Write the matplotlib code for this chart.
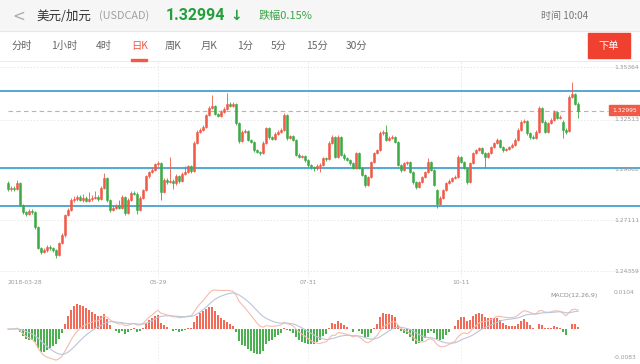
import matplotlib
matplotlib.use("Agg")
import matplotlib.pyplot as plt
from matplotlib.patches import Rectangle
from matplotlib.transforms import blended_transform_factory
import numpy as np
import pandas as pd

plt.rcParams['font.family'] = ['Noto Sans CJK SC', 'DejaVu Sans']

# ---------------- data ----------------
opens = [
    1.2910, 1.2878, 1.2884, 1.2878, 1.2910, 1.2792, 1.2754, 1.2744, 1.2760, 1.2754,
    1.2673, 1.2560, 1.2539, 1.2549, 1.2566, 1.2560, 1.2549, 1.2523, 1.2588, 1.2630,
    1.2738, 1.2765, 1.2819, 1.2824, 1.2835, 1.2819, 1.2830, 1.2814, 1.2824, 1.2830,
    1.2835, 1.2824, 1.2884, 1.2937, 1.2819, 1.2765, 1.2776, 1.2787, 1.2776, 1.2835,
    1.2749, 1.2819, 1.2857, 1.2851, 1.2765, 1.2830, 1.2873, 1.2948, 1.2970, 1.2981,
    1.3013, 1.3018, 1.2862, 1.2927, 1.2916, 1.2921, 1.2910, 1.2948, 1.2921, 1.2959,
    1.2970, 1.3002, 1.2975, 1.3126, 1.3186, 1.3197, 1.3213, 1.3277, 1.3315, 1.3326,
    1.3283, 1.3272, 1.3294, 1.3310, 1.3337, 1.3326, 1.3337, 1.3234, 1.3137, 1.3186,
    1.3191, 1.3143, 1.3132, 1.3089, 1.3078, 1.3072, 1.3126, 1.3207, 1.3159, 1.3148,
    1.3175, 1.3186, 1.3197, 1.3277, 1.3154, 1.3164, 1.3143, 1.3062, 1.3051, 1.3056,
    1.3035, 1.3008, 1.2997, 1.2992, 1.3002, 1.3008, 1.3045, 1.3040, 1.3126, 1.3159,
    1.3051, 1.3159, 1.3062, 1.3045, 1.3035, 1.3018, 1.2992, 1.3072, 1.2992, 1.2954,
    1.2900, 1.2943, 1.3024, 1.3072, 1.3089, 1.3180, 1.3186, 1.3143, 1.3154, 1.3159,
    1.3132, 1.3008, 1.2981, 1.3018, 1.3024, 1.2970, 1.2916, 1.2889, 1.2916, 1.2943,
    1.2970, 1.3024, 1.2981, 1.2873, 1.2798, 1.2830, 1.2873, 1.2910, 1.2921, 1.2937,
    1.2943, 1.3051, 1.3024, 1.2992, 1.2916, 1.3018, 1.3072, 1.3089, 1.3099, 1.3072,
    1.3051, 1.3072, 1.3105, 1.3126, 1.3143, 1.3105, 1.3089, 1.3094, 1.3105, 1.3116,
    1.3143, 1.3197, 1.3240, 1.3245, 1.3180, 1.3159, 1.3154, 1.3186, 1.3315, 1.3240,
    1.3186, 1.3234, 1.3251, 1.3294, 1.3261, 1.3240, 1.3197, 1.3191, 1.3375, 1.3391,
    1.3337]

closes = [
    1.2878, 1.2884, 1.2878, 1.2910, 1.2792, 1.2754, 1.2744, 1.2760, 1.2754, 1.2673,
    1.2560, 1.2539, 1.2549, 1.2566, 1.2560, 1.2549, 1.2523, 1.2588, 1.2630, 1.2738,
    1.2765, 1.2819, 1.2824, 1.2835, 1.2819, 1.2830, 1.2814, 1.2824, 1.2830, 1.2835,
    1.2824, 1.2884, 1.2937, 1.2819, 1.2765, 1.2776, 1.2787, 1.2776, 1.2835, 1.2749,
    1.2819, 1.2857, 1.2851, 1.2765, 1.2830, 1.2873, 1.2948, 1.2970, 1.2981, 1.3013,
    1.3018, 1.2862, 1.2927, 1.2916, 1.2921, 1.2910, 1.2948, 1.2921, 1.2959, 1.2970,
    1.3002, 1.2975, 1.3126, 1.3186, 1.3197, 1.3213, 1.3277, 1.3315, 1.3326, 1.3283,
    1.3272, 1.3294, 1.3310, 1.3337, 1.3326, 1.3337, 1.3234, 1.3137, 1.3186, 1.3191,
    1.3143, 1.3132, 1.3089, 1.3078, 1.3072, 1.3126, 1.3207, 1.3159, 1.3148, 1.3175,
    1.3186, 1.3197, 1.3277, 1.3154, 1.3164, 1.3143, 1.3062, 1.3051, 1.3056, 1.3035,
    1.3008, 1.2997, 1.2992, 1.3002, 1.3008, 1.3045, 1.3040, 1.3126, 1.3159, 1.3051,
    1.3159, 1.3062, 1.3045, 1.3035, 1.3018, 1.2992, 1.3072, 1.2992, 1.2954, 1.2900,
    1.2943, 1.3024, 1.3072, 1.3089, 1.3180, 1.3186, 1.3143, 1.3154, 1.3159, 1.3132,
    1.3008, 1.2981, 1.3018, 1.3024, 1.2970, 1.2916, 1.2889, 1.2916, 1.2943, 1.2970,
    1.3024, 1.2981, 1.2900, 1.2798, 1.2830, 1.2873, 1.2910, 1.2921, 1.2937, 1.2943,
    1.3051, 1.3024, 1.2992, 1.2916, 1.3018, 1.3072, 1.3089, 1.3099, 1.3072, 1.3051,
    1.3072, 1.3105, 1.3126, 1.3143, 1.3105, 1.3089, 1.3094, 1.3105, 1.3116, 1.3143,
    1.3197, 1.3240, 1.3245, 1.3180, 1.3159, 1.3154, 1.3186, 1.3315, 1.3240, 1.3186,
    1.3234, 1.3251, 1.3294, 1.3261, 1.3267, 1.3197, 1.3186, 1.3375, 1.3391, 1.3337,
    1.32994]

highs = [
    1.2921, 1.2895, 1.2892, 1.2925, 1.2916, 1.2800, 1.2762, 1.2770, 1.2768, 1.2760,
    1.2680, 1.2566, 1.2558, 1.2575, 1.2574, 1.2568, 1.2556, 1.2595, 1.2640, 1.2746,
    1.2775, 1.2830, 1.2840, 1.2846, 1.2848, 1.2852, 1.2840, 1.2860, 1.2845, 1.2870,
    1.2848, 1.2895, 1.2962, 1.2945, 1.2826, 1.2790, 1.2800, 1.2820, 1.2846, 1.2842,
    1.2830, 1.2868, 1.2866, 1.2860, 1.2840, 1.2880, 1.2955, 1.2978, 1.2990, 1.3020,
    1.3030, 1.3024, 1.2935, 1.2935, 1.3051, 1.2930, 1.2958, 1.2955, 1.2970, 1.3000,
    1.3010, 1.3008, 1.3135, 1.3195, 1.3206, 1.3222, 1.3285, 1.3325, 1.3385, 1.3332,
    1.3290, 1.3302, 1.3320, 1.3396, 1.3345, 1.3350, 1.3342, 1.3240, 1.3195, 1.3200,
    1.3198, 1.3150, 1.3138, 1.3096, 1.3085, 1.3135, 1.3215, 1.3212, 1.3166, 1.3184,
    1.3194, 1.3206, 1.3290, 1.3282, 1.3172, 1.3170, 1.3150, 1.3070, 1.3064, 1.3062,
    1.3040, 1.3015, 1.3005, 1.3012, 1.3016, 1.3052, 1.3053, 1.3135, 1.3168, 1.3165,
    1.3168, 1.3166, 1.3070, 1.3052, 1.3042, 1.3025, 1.3080, 1.3078, 1.2998, 1.2960,
    1.2950, 1.3030, 1.3080, 1.3096, 1.3190, 1.3195, 1.3224, 1.3162, 1.3168, 1.3166,
    1.3138, 1.3014, 1.3026, 1.3032, 1.3030, 1.2976, 1.2922, 1.2924, 1.2950, 1.2978,
    1.3045, 1.3030, 1.2988, 1.2880, 1.2838, 1.2880, 1.2918, 1.2930, 1.2945, 1.2952,
    1.3060, 1.3058, 1.3030, 1.2998, 1.3026, 1.3080, 1.3096, 1.3106, 1.3105, 1.3078,
    1.3080, 1.3112, 1.3134, 1.3152, 1.3150, 1.3112, 1.3102, 1.3112, 1.3124, 1.3152,
    1.3206, 1.3250, 1.3256, 1.3252, 1.3188, 1.3168, 1.3194, 1.3324, 1.3322, 1.3248,
    1.3242, 1.3260, 1.3302, 1.3300, 1.3275, 1.3248, 1.3205, 1.3384, 1.3455, 1.3398,
    1.3345]

lows = [
    1.2868, 1.2870, 1.2868, 1.2873, 1.2785, 1.2745, 1.2735, 1.2738, 1.2746, 1.2665,
    1.2552, 1.2528, 1.2532, 1.2540, 1.2550, 1.2540, 1.2506, 1.2515, 1.2580, 1.2622,
    1.2730, 1.2758, 1.2810, 1.2815, 1.2812, 1.2810, 1.2806, 1.2808, 1.2816, 1.2822,
    1.2815, 1.2818, 1.2878, 1.2810, 1.2755, 1.2758, 1.2770, 1.2768, 1.2770, 1.2740,
    1.2743, 1.2812, 1.2845, 1.2745, 1.2760, 1.2822, 1.2866, 1.2940, 1.2962, 1.2975,
    1.3005, 1.2819, 1.2855, 1.2905, 1.2910, 1.2880, 1.2902, 1.2912, 1.2915, 1.2952,
    1.2962, 1.2965, 1.2970, 1.3120, 1.3178, 1.3190, 1.3208, 1.3270, 1.3308, 1.3275,
    1.3265, 1.3266, 1.3288, 1.3304, 1.3318, 1.3320, 1.3226, 1.3128, 1.3130, 1.3178,
    1.3135, 1.3124, 1.3080, 1.3070, 1.3062, 1.3066, 1.3120, 1.3150, 1.3140, 1.3142,
    1.3168, 1.3180, 1.3190, 1.3145, 1.3146, 1.3135, 1.3055, 1.3043, 1.3044, 1.3026,
    1.2998, 1.2985, 1.2975, 1.2982, 1.2970, 1.3000, 1.3032, 1.3034, 1.3120, 1.3044,
    1.3045, 1.3055, 1.3037, 1.3027, 1.3010, 1.2984, 1.2986, 1.2985, 1.2946, 1.2890,
    1.2893, 1.2937, 1.3018, 1.3066, 1.3083, 1.3172, 1.3136, 1.3136, 1.3146, 1.3125,
    1.3000, 1.2972, 1.2975, 1.3010, 1.2962, 1.2908, 1.2880, 1.2882, 1.2910, 1.2936,
    1.2964, 1.2974, 1.2892, 1.2776, 1.2790, 1.2824, 1.2866, 1.2904, 1.2914, 1.2930,
    1.2936, 1.3016, 1.2984, 1.2908, 1.2910, 1.3012, 1.3066, 1.3082, 1.3065, 1.2992,
    1.3045, 1.3066, 1.3098, 1.3120, 1.3098, 1.3080, 1.3082, 1.3088, 1.3098, 1.3110,
    1.3136, 1.3190, 1.3234, 1.3172, 1.3150, 1.3146, 1.3148, 1.3180, 1.3232, 1.3178,
    1.3180, 1.3228, 1.3245, 1.3254, 1.3255, 1.3154, 1.3176, 1.3184, 1.3368, 1.3330,
    1.3260]

date_labels = ['2018-03-28', '05-29', '07-31', '10-11']
date_index = [0, 50, 100, 151]
price_ticks = [1.35364, 1.32513, 1.29862, 1.27111, 1.24359]
support_lines = [1.3407, 1.2993, 1.2788]
last_price = 1.32995
macd_ticks = [0.0104, -0.0083]

# ---------------- derived indicator ----------------
cl = pd.Series(closes)
dif = cl.ewm(span=12, adjust=False).mean() - cl.ewm(span=26, adjust=False).mean()
dea = dif.ewm(span=9, adjust=False).mean()
hist = 2 * (dif - dea)

# ---------------- figure ----------------
W, H = 640, 364
fig = plt.figure(figsize=(W / 100, H / 100), dpi=100)
fig.patch.set_facecolor('white')

def rect(x0, y0, x1, y1):
    return [x0 / W, 1 - y1 / H, (x1 - x0) / W, (y1 - y0) / H]

RED = '#f05a48'
GREEN = '#3daa45'
BLUE = '#52a8d2'
GRAY = '#9a9a9a'

n = len(closes)
idx = np.arange(n)
xlim = (-8 / 3, 632 / 3)

# price axes
ax = fig.add_axes(rect(0, 62, 640, 277))
ax.set_xlim(*xlim)
pix = lambda y: 1.38978 - 0.0005394 * y
ax.set_ylim(pix(277), pix(62))
ax.axis('off')

for p in price_ticks:
    ax.axhline(p, color='#e6e6e6', lw=0.6, ls=(0, (2, 2)), zorder=0)
for d in date_index[1:]:
    ax.axvline(d, color='#e6e6e6', lw=0.6, ls=(0, (2, 2)), zorder=0)
for s in support_lines:
    ax.axhline(s, color=BLUE, lw=1.4, zorder=1)
ax.hlines(last_price, 0, 200, colors='#f49a90', lw=0.8, ls=(0, (4, 3)), zorder=1)

o = np.array(opens); c = np.array(closes); h = np.array(highs); l = np.array(lows)
up = c >= o
cols = np.where(up, RED, GREEN)
ax.vlines(idx, l, h, colors=cols, lw=0.6, zorder=2)
ax.bar(idx, np.abs(c - o), bottom=np.minimum(o, c), width=0.66, color=cols,
       edgecolor=cols, linewidth=0.4, zorder=3)

tr = blended_transform_factory(ax.transAxes, ax.transData)
for p in price_ticks:
    ax.text(614 / W, p, f'{p:.5f}', transform=tr, fontsize=4.3, color=GRAY,
            va='center', ha='left', family=['DejaVu Sans'])

# MACD axes
mx = fig.add_axes(rect(0, 288, 640, 362))
mx.set_xlim(*xlim)
mpix = lambda y: 0.0104 - (y - 293) * 0.000288
mx.set_ylim(mpix(362), mpix(288))
mx.axis('off')
for d in date_index[1:]:
    mx.axvline(d, color='#ececec', lw=0.6, ls=(0, (2, 2)), zorder=0)
hv = hist.values
mx.bar(idx, hv, width=0.55, color=np.where(hv >= 0, '#f26a58', '#4cb050'),
       linewidth=0, zorder=2)
mx.plot(idx, dif.values, color='#f5bcae', lw=0.8, zorder=3)
mx.plot(idx, dea.values, color='#bcc6d8', lw=0.8, zorder=3)
trm = blended_transform_factory(mx.transAxes, mx.transData)
for v in macd_ticks:
    mx.text(614 / W, v, f'{v:.4f}', transform=trm, fontsize=4.3, color=GRAY,
            va='center', ha='left', family=['DejaVu Sans'])

# overlay for header / labels
ov = fig.add_axes([0, 0, 1, 1])
ov.set_xlim(0, W)
ov.set_ylim(H, 0)
ov.axis('off')
ov.patch.set_alpha(0)

ov.add_patch(Rectangle((0, 0), W, 31, color='#f6f6f6', zorder=0))
ov.plot([0, W], [31, 31], color='#e4e4e4', lw=0.6)
ov.plot([0, W], [61, 61], color='#e8e8e8', lw=0.6)

ov.text(12, 16, '<', fontsize=11, color='#aaaaaa', va='center', ha='left', family=['DejaVu Sans'])
ov.text(36, 16, '美元/加元', fontsize=9, color='#333333', va='center', ha='left')
ov.text(99, 16, '(USDCAD)', fontsize=7.8, color='#a0a0a0', va='center', ha='left')
ov.text(166, 16, '1.32994', fontsize=11.5, color='#23a03c', va='center', ha='left',
        fontweight='bold', family=['Roboto', 'DejaVu Sans'])
ov.text(236, 16, '↓', fontsize=10, color='#23a03c', va='center', ha='center',
        fontweight='bold', family=['DejaVu Sans'])
ov.text(259, 16, '跌幅0.15%', fontsize=8, color='#3aa548', va='center', ha='left')
ov.text(541, 16, '时间 10:04', fontsize=7.2, color='#777777', va='center', ha='left')

tabs = ['分时', '1小时', '4时', '日K', '周K', '月K', '1分', '5分', '15分', '30分']
tab_x = [12, 51, 96, 131, 165, 201, 237, 271, 306, 346]
for t, x in zip(tabs, tab_x):
    ov.text(x, 46, t, fontsize=7.4, color=(RED if t == '日K' else '#666666'),
            va='center', ha='left')
ov.add_patch(Rectangle((131, 58.5), 16, 2.5, color=RED, zorder=2))
ov.add_patch(Rectangle((588, 33), 42, 25, color='#ef4030', zorder=2))
ov.text(609, 45.5, '下单', fontsize=7.4, color='white', va='center', ha='center', zorder=3)

# last price tag
ov.add_patch(Rectangle((609, 105), 31, 10, color=RED, zorder=2))
ov.text(612, 110, f'{last_price:.5f}', fontsize=4.3, color='white', va='center',
        ha='left', zorder=3, family=['DejaVu Sans'])

# date labels
ov.text(7, 283, date_labels[0], fontsize=4.3, color=GRAY, va='center', ha='left',
        family=['DejaVu Sans'])
for lab, d in zip(date_labels[1:], date_index[1:]):
    ov.text(8 + 3 * d, 283, lab, fontsize=4.3, color=GRAY, va='center', ha='center',
            family=['DejaVu Sans'])
ov.text(598, 296, 'MACD(12,26,9)', fontsize=4.5, color='#8a8a8a', va='center',
        ha='right', family=['DejaVu Sans'])

fig.savefig('out.png', dpi=100, facecolor='white')
